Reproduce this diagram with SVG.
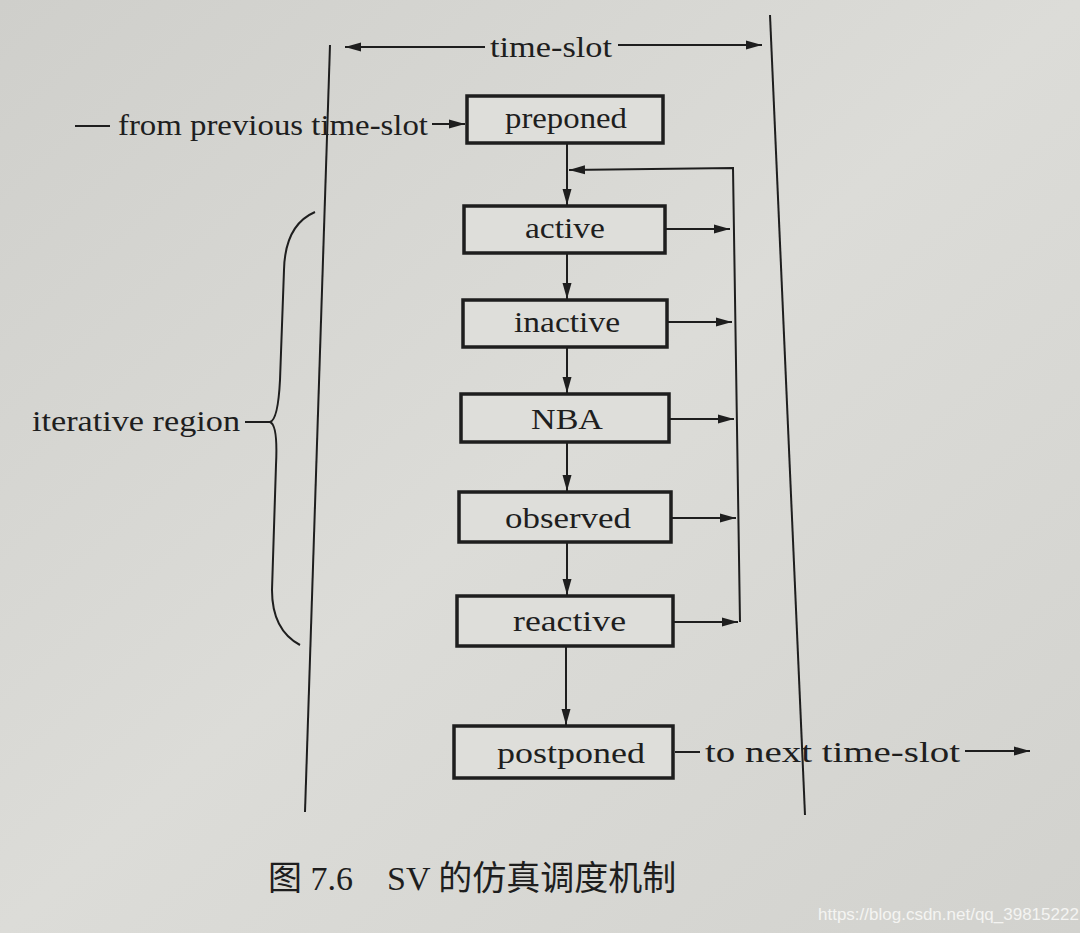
<svg xmlns="http://www.w3.org/2000/svg" width="1080" height="933" viewBox="0 0 1080 933">
<defs>
<marker id="ah" viewBox="0 0 16 10" refX="16" refY="5" markerWidth="16" markerHeight="10" orient="auto" markerUnits="userSpaceOnUse"><path d="M0,0.5 L16,5 L0,9.5 Z" fill="#1e1e1e"/></marker>
<linearGradient id="bg" x1="0" y1="0" x2="1" y2="1"><stop offset="0" stop-color="#cfcfcb"/><stop offset="0.5" stop-color="#dcdcd8"/><stop offset="1" stop-color="#d2d2ce"/></linearGradient>
</defs>
<style>
.t{font-family:"Liberation Serif",serif;font-size:30px;fill:#1e1e1e}
.b{fill:#dededa;stroke:#1e1e1e;stroke-width:3.5}
.l{stroke:#1e1e1e;stroke-width:2;fill:none}
</style>
<rect width="1080" height="933" fill="url(#bg)"/>
<g id="frame">
<line class="l" x1="330" y1="45" x2="305" y2="812"/>
<line class="l" x1="770" y1="15" x2="805" y2="815"/>
</g>
<g id="connectors">
<line class="l" x1="485" y1="47" x2="345" y2="47" marker-end="url(#ah)"/>
<line class="l" x1="618" y1="45" x2="762" y2="45" marker-end="url(#ah)"/>
<line class="l" x1="75" y1="126" x2="110" y2="126"/>
<line class="l" x1="432" y1="124" x2="465" y2="124" marker-end="url(#ah)"/>
<line class="l" x1="567" y1="143" x2="567" y2="205" marker-end="url(#ah)"/>
<line class="l" x1="567" y1="253" x2="567" y2="299" marker-end="url(#ah)"/>
<line class="l" x1="567" y1="347" x2="567" y2="393" marker-end="url(#ah)"/>
<line class="l" x1="567" y1="442" x2="567" y2="491" marker-end="url(#ah)"/>
<line class="l" x1="567" y1="542" x2="567" y2="595" marker-end="url(#ah)"/>
<line class="l" x1="566" y1="646" x2="566" y2="725" marker-end="url(#ah)"/>
<line class="l" x1="665" y1="229" x2="730" y2="229" marker-end="url(#ah)"/>
<line class="l" x1="667" y1="322" x2="732" y2="322" marker-end="url(#ah)"/>
<line class="l" x1="669" y1="419" x2="734" y2="419" marker-end="url(#ah)"/>
<line class="l" x1="671" y1="518" x2="736" y2="518" marker-end="url(#ah)"/>
<line class="l" x1="673" y1="622" x2="738" y2="622" marker-end="url(#ah)"/>
<polyline class="l" points="740,622 733,168 569,170" marker-end="url(#ah)"/>
<line class="l" x1="675" y1="752" x2="700" y2="752"/>
<line class="l" x1="965" y1="751" x2="1030" y2="751" marker-end="url(#ah)"/>
<line class="l" x1="245" y1="422" x2="272" y2="422"/>
<path class="l" d="M315,212 Q285,225 284,270 L280,380 Q278,420 270,422 Q278,425 276,465 L272,590 Q272,630 300,645"/>
</g>
<g id="labels">
<text class="t" x="490" y="57" textLength="122" lengthAdjust="spacingAndGlyphs">time-slot</text>
<text class="t" x="118" y="135" textLength="310" lengthAdjust="spacingAndGlyphs">from previous time-slot</text>
<text class="t" x="32" y="431" textLength="208" lengthAdjust="spacingAndGlyphs">iterative region</text>
<text class="t" x="705" y="762" textLength="255" lengthAdjust="spacingAndGlyphs">to next time-slot</text>
</g>
<g id="preponed"><rect class="b" x="467" y="96" width="196" height="47"/><text class="t" x="505" y="128" textLength="122" lengthAdjust="spacingAndGlyphs">preponed</text></g>
<g id="active"><rect class="b" x="464" y="206" width="201" height="47"/><text class="t" x="525" y="238" textLength="80" lengthAdjust="spacingAndGlyphs">active</text></g>
<g id="inactive"><rect class="b" x="463" y="300" width="204" height="47"/><text class="t" x="514" y="332" textLength="106" lengthAdjust="spacingAndGlyphs">inactive</text></g>
<g id="NBA"><rect class="b" x="461" y="394" width="208" height="48"/><text class="t" x="531" y="429" textLength="72" lengthAdjust="spacingAndGlyphs">NBA</text></g>
<g id="observed"><rect class="b" x="459" y="492" width="212" height="50"/><text class="t" x="505" y="528" textLength="126" lengthAdjust="spacingAndGlyphs">observed</text></g>
<g id="reactive"><rect class="b" x="457" y="596" width="216" height="50"/><text class="t" x="513" y="631" textLength="113" lengthAdjust="spacingAndGlyphs">reactive</text></g>
<g id="postponed"><rect class="b" x="454" y="726" width="219" height="52"/><text class="t" x="497" y="763" textLength="148" lengthAdjust="spacingAndGlyphs">postponed</text></g>
<g id="caption">
<text x="268" y="890" style="font-family:'Liberation Serif','Noto Sans CJK SC',serif;font-size:34px;fill:#1e1e1e">图 7.6　SV 的仿真调度机制</text>
<text x="818" y="920" style="font-family:'Liberation Sans',sans-serif;font-size:17px;fill:#f4f4f2">https://blog.csdn.net/qq_39815222</text>
</g>
</svg>
